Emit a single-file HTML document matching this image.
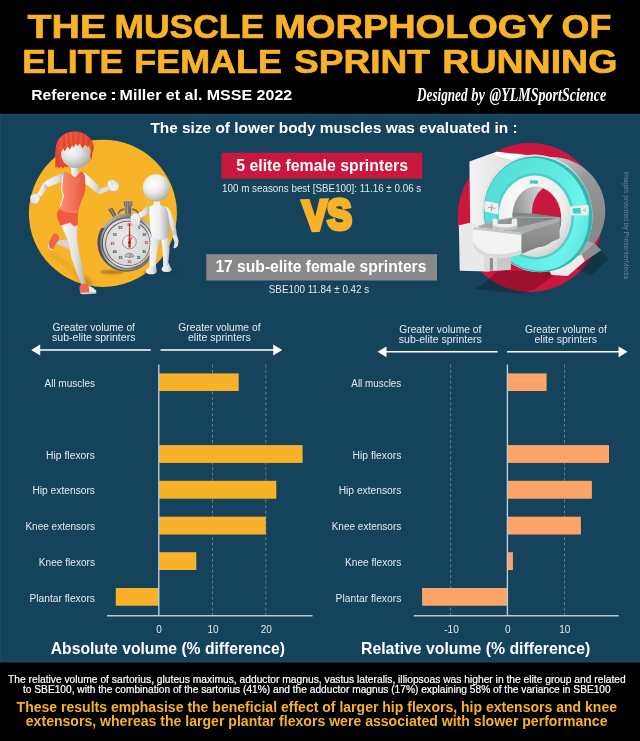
<!DOCTYPE html>
<html lang="en">
<head>
<meta charset="utf-8">
<title>The muscle morphology of elite female sprint running</title>
<style>
  html, body { margin: 0; padding: 0; background: #000; }
  body { width: 640px; height: 741px; overflow: hidden; }
  svg { display: block; }
  text { font-family: "Liberation Sans", sans-serif; }
  .b { font-weight: bold; }
  .w { fill: #ffffff; }
  .y { fill: #f7b22a; }
  .lab { fill: #e3e9ed; font-size: 10px; }
  .sm { fill: #e3e9ed; font-size: 10.7px; }
  .ax { stroke: #bccad2; stroke-width: 1.4; fill: none; }
  .grid { stroke: #6a8697; stroke-width: 0.9; stroke-dasharray: 3 2.4; fill: none; }
  .ft { stroke: #ffffff; stroke-width: 0.2; }
  .arrow { stroke: #ffffff; stroke-width: 1.6; fill: none; }
</style>
</head>
<body>
<svg width="640" height="741" viewBox="0 0 640 741">
  <defs>
    <radialGradient id="gHead" cx="0.38" cy="0.32" r="0.8">
      <stop offset="0" stop-color="#ffffff"/><stop offset="0.45" stop-color="#ececec"/><stop offset="0.8" stop-color="#bcbcbc"/><stop offset="1" stop-color="#8c8c8c"/>
    </radialGradient>
    <linearGradient id="gBody" x1="0" y1="0" x2="1" y2="0">
      <stop offset="0" stop-color="#ffffff"/><stop offset="0.55" stop-color="#ececec"/><stop offset="1" stop-color="#a9a9a9"/>
    </linearGradient>
    <linearGradient id="gLimb" x1="0" y1="0" x2="1" y2="0">
      <stop offset="0" stop-color="#fbfbfb"/><stop offset="0.6" stop-color="#e2e2e2"/><stop offset="1" stop-color="#b5b5b5"/>
    </linearGradient>
    <linearGradient id="gTop" x1="0" y1="0" x2="1" y2="0">
      <stop offset="0" stop-color="#f98e73"/><stop offset="0.5" stop-color="#f4745a"/><stop offset="1" stop-color="#e6573b"/>
    </linearGradient>
    <linearGradient id="gHair" x1="0" y1="0" x2="1" y2="1">
      <stop offset="0" stop-color="#f4583a"/><stop offset="1" stop-color="#d93a1f"/>
    </linearGradient>
    <linearGradient id="gSteel" x1="0" y1="0" x2="1" y2="1">
      <stop offset="0" stop-color="#e8e8e8"/><stop offset="0.3" stop-color="#7c7c7c"/><stop offset="0.55" stop-color="#c4c4c4"/><stop offset="1" stop-color="#4c4c4c"/>
    </linearGradient>
    <radialGradient id="gDial" cx="0.45" cy="0.4" r="0.7">
      <stop offset="0" stop-color="#ececec"/><stop offset="1" stop-color="#d2d2d2"/>
    </radialGradient>
    <linearGradient id="gBezel" x1="0" y1="0" x2="1" y2="1">
      <stop offset="0" stop-color="#f4f4f4"/><stop offset="0.45" stop-color="#bdbdbd"/><stop offset="0.7" stop-color="#e6e6e6"/><stop offset="1" stop-color="#8a8a8a"/>
    </linearGradient>
    <linearGradient id="gTeal" x1="0" y1="0" x2="1" y2="1">
      <stop offset="0" stop-color="#4fd9d1"/><stop offset="0.5" stop-color="#5ee9e1"/><stop offset="0.75" stop-color="#6cf3ec"/><stop offset="1" stop-color="#49d6ce"/>
    </linearGradient>
    <linearGradient id="gBack" x1="0.3" y1="0" x2="0.8" y2="0.7">
      <stop offset="0" stop-color="#e9e9e9"/><stop offset="0.25" stop-color="#bdbdbd"/><stop offset="0.5" stop-color="#9a9a9a"/><stop offset="1" stop-color="#8a8a8a"/>
    </linearGradient>
    <radialGradient id="gRingW" cx="0.4" cy="0.35" r="0.75">
      <stop offset="0" stop-color="#ffffff"/><stop offset="0.7" stop-color="#ececec"/><stop offset="1" stop-color="#c4c4c4"/>
    </radialGradient>
    <linearGradient id="gBore" x1="0" y1="0" x2="1" y2="0">
      <stop offset="0" stop-color="#8f8f8f"/><stop offset="0.5" stop-color="#c6c6c6"/><stop offset="1" stop-color="#e2e2e2"/>
    </linearGradient>
    <linearGradient id="gSlab" x1="0" y1="0" x2="1" y2="0">
      <stop offset="0" stop-color="#f3f3f3"/><stop offset="1" stop-color="#dadada"/>
    </linearGradient>
    <linearGradient id="gTblSide" x1="0" y1="0" x2="0" y2="1">
      <stop offset="0" stop-color="#9c9c9c"/><stop offset="1" stop-color="#7d7d7d"/>
    </linearGradient>
    <clipPath id="cRed"><ellipse cx="530.1" cy="217.5" rx="72.5" ry="74.4"/></clipPath>
    <clipPath id="cBore"><ellipse cx="536.9" cy="217" rx="24.2" ry="30.1" transform="rotate(-5.6 536.9 217)"/></clipPath>
    <clipPath id="cYel"><ellipse cx="102.9" cy="213.3" rx="74" ry="73.6"/></clipPath>
    <filter id="fBlur" x="-30%" y="-30%" width="160%" height="160%"><feGaussianBlur stdDeviation="2.2"/></filter>
    <filter id="fBlur2" x="-30%" y="-100%" width="160%" height="300%"><feGaussianBlur stdDeviation="1"/></filter>
    <linearGradient id="gTblTop" x1="0" y1="0" x2="1" y2="0">
      <stop offset="0" stop-color="#a4a9a9"/><stop offset="0.4" stop-color="#8a9090"/><stop offset="1" stop-color="#7a8181"/>
    </linearGradient>
    <radialGradient id="gHead2" cx="0.36" cy="0.34" r="0.8">
      <stop offset="0" stop-color="#f6f6f6"/><stop offset="0.4" stop-color="#e2e2e2"/><stop offset="0.8" stop-color="#b2b2b2"/><stop offset="1" stop-color="#8c8c8c"/>
    </radialGradient>
    <!--DEFS-->
  </defs>

  <!-- backgrounds -->
  <rect x="0" y="0" width="640" height="741" fill="#000000"/>
  <rect x="0" y="113.8" width="640" height="548.7" fill="#1b4b67"/>
  <rect x="1.2" y="115" width="638.8" height="546.2" fill="#16435c"/>

  <!-- header -->
  <g class="b y" font-size="32.4" stroke="#f7b22a" stroke-width="0.7">
    <text y="37.5"><tspan x="27.62" textLength="78.59" lengthAdjust="spacingAndGlyphs">THE</tspan> <tspan x="114.45" textLength="149.76" lengthAdjust="spacingAndGlyphs">MUSCLE</tspan> <tspan x="274.33" textLength="277.69" lengthAdjust="spacingAndGlyphs">MORPHOLOGY</tspan> <tspan x="561.64" textLength="49.72" lengthAdjust="spacingAndGlyphs">OF</tspan></text>
    <text y="72.6"><tspan x="22.16" textLength="101.1" lengthAdjust="spacingAndGlyphs">ELITE</tspan> <tspan x="134.37" textLength="147.53" lengthAdjust="spacingAndGlyphs">FEMALE</tspan> <tspan x="294.04" textLength="135.9" lengthAdjust="spacingAndGlyphs">SPRINT</tspan> <tspan x="442.3" textLength="175.01" lengthAdjust="spacingAndGlyphs">RUNNING</tspan></text>
  </g>
  <text class="b w" y="100" font-size="14.9"><tspan x="31.15" textLength="75.83" lengthAdjust="spacingAndGlyphs">Reference</tspan> <tspan x="109.88" textLength="7.42" lengthAdjust="spacingAndGlyphs">:</tspan> <tspan x="119.64" textLength="172.56" lengthAdjust="spacingAndGlyphs">Miller et al. MSSE 2022</tspan></text>
  <text class="w" y="101.4" font-size="18.4" font-style="italic" font-weight="bold" style="font-family:'Liberation Serif',serif"><tspan x="417" textLength="50.55" lengthAdjust="spacingAndGlyphs">Designed</tspan> <tspan x="471.29" textLength="13.72" lengthAdjust="spacingAndGlyphs">by</tspan> <tspan x="489.58" textLength="116.69" lengthAdjust="spacingAndGlyphs">@YLMSportScience</tspan></text>

  <!-- intro -->
  <text class="b w" x="150.4" y="132.6" font-size="15.4" textLength="367.2" lengthAdjust="spacingAndGlyphs">The size of lower body muscles was evaluated in :</text>

  <!-- left illustration -->
  <g>
    <ellipse cx="102.9" cy="213.3" rx="74" ry="73.6" fill="#f8b429"/>
    <!-- soft floor shadows -->
    <g clip-path="url(#cYel)">
      <path d="M48 256 Q62 258 80 282 L86 284 Q70 262 50 252 Z" fill="#b97a10" opacity="0.35" filter="url(#fBlur)"/>
      <path d="M82 274 Q90 278 94 288 L86 286 Z" fill="#8a5a0c" opacity="0.5" filter="url(#fBlur)"/>
      <ellipse cx="112" cy="272" rx="12" ry="2" fill="#7a5210" opacity="0.55" filter="url(#fBlur2)"/>
      <ellipse cx="152" cy="273" rx="9" ry="2.4" fill="#7a5210" opacity="0.5" filter="url(#fBlur2)"/>
    </g>
    <ellipse cx="168" cy="272" rx="11" ry="2.4" fill="#0f3246" opacity="0.4" filter="url(#fBlur2)"/>

    <!-- stopwatch -->
    <g>
      <rect x="125.4" y="205.6" width="5.6" height="8.6" fill="#6a6a6a"/>
      <rect x="126.8" y="205.6" width="1.4" height="8.6" fill="#9d9d9d"/>
      <rect x="123.8" y="201.2" width="8.6" height="5.4" rx="0.8" fill="#707070"/>
      <path d="M125.4 201.4 V206.4 M127.4 201.4 V206.4 M129.4 201.4 V206.4 M131 201.4 V206.4" stroke="#a9a9a9" stroke-width="0.6"/>
      <path d="M118 214 Q119.6 209.6 124.6 209.2 M138.6 214 Q137 209.6 131.8 209.2" fill="none" stroke="#6f6f6f" stroke-width="1.7"/>
      <path d="M108.2 209.4 L112.2 207.4 L116.4 215 L113.2 217.2 Z" fill="#5e5e5e"/>
      <path d="M109.6 208.8 L111 208.2 L115 215.6 L114 216.4 Z" fill="#8d8d8d"/>
      <path d="M141.4 209.8 L145.6 212.6 L143 217 L139 214.6 Z" fill="#5e5e5e"/>
      <circle cx="126.6" cy="242.7" r="28.7" fill="url(#gSteel)"/>
      <path d="M101.4 228 A28.7 28.7 0 0 0 126 271.4 A28.7 28.7 0 0 0 151 258 A26.4 26.4 0 0 1 104.6 228 Z" fill="#4a4a4a" opacity="0.9"/>
      <circle cx="127.5" cy="243" r="25.6" fill="#4a4a4a"/>
      <circle cx="127.6" cy="243.1" r="24.8" fill="url(#gBezel)"/>
      <circle cx="127.8" cy="243.3" r="22.6" fill="#555555"/>
      <circle cx="127.9" cy="243.4" r="21.9" fill="url(#gDial)"/>
      <circle cx="129.4" cy="242" r="6.9" fill="none" stroke="#4a4a4a" stroke-width="0.5"/>
      <path d="M125 256.4 A4.6 4.6 0 0 1 133.8 256.4 Q129.4 258.6 125 256.4 Z" fill="#c9c9c9" stroke="#4a4a4a" stroke-width="0.5"/>
      <g font-size="3.5" font-weight="bold" fill="#2e2e2e" text-anchor="middle">
        <text x="129.4" y="225.9" fill="#d22323">60</text>
        <text x="139.2" y="229">5</text>
        <text x="144.3" y="235.5">10</text>
        <text x="146.2" y="243.6" fill="#d22323">15</text>
        <text x="144.1" y="252.8">20</text>
        <text x="138.6" y="259.2">25</text>
        <text x="129.4" y="262.6" fill="#d22323">30</text>
        <text x="120.5" y="259.4">35</text>
        <text x="114.7" y="253.4">40</text>
        <text x="112.4" y="244.5" fill="#d22323">45</text>
        <text x="114.7" y="235.9">50</text>
        <text x="120.5" y="229">55</text>
      </g>
      <path d="M129.5 223.8 L130.4 247.2 L128.8 247.2 Z" fill="#d3202a" stroke="#d3202a" stroke-width="0.7" stroke-linejoin="round"/>
      <path d="M129.6 242 L132.2 237" stroke="#d3202a" stroke-width="0.8"/>
      <circle cx="129.5" cy="242.4" r="1.2" fill="#8a1218"/>
      <path d="M129.4 257 L130.4 254" stroke="#d3202a" stroke-width="0.7"/>
    </g>

    <!-- white figure -->
    <g>
      <!-- feet -->
      <path d="M150.2 264 L155.6 264 L156.6 269.6 Q157.6 273.4 153.6 274.2 Q147.4 275 146 272 Q145.6 269.4 148.6 268 Z" fill="url(#gLimb)"/>
      <path d="M163.2 262.6 L168.2 262.6 L170.4 267 Q173.2 270.4 169.6 271.8 Q163.6 272.8 161.8 270.2 Q161 267.6 163.2 266.4 Z" fill="url(#gLimb)"/>
      <!-- legs -->
      <path d="M151.6 234.6 L160.8 239.4 Q158 247 156.9 253.2 L155.4 266.6 L150.2 266.6 Q149.2 262 149.5 259 Q149.6 252 150.2 247.2 Z" fill="url(#gLimb)"/>
      <path d="M161.2 239.4 L168.2 236.6 Q169.8 244 169.5 250.2 L168 265.2 L163.3 265.2 L162.8 253.2 Q162.4 246 161.2 239.4 Z" fill="url(#gLimb)"/>
      <!-- right arm (behind torso) -->
      <path d="M164.8 206.6 Q169.6 207.6 171 212.6 L176.2 229.4 L177 236 L174 236.6 L171.7 229.4 L166.6 214 Z" fill="url(#gLimb)"/>
      <path d="M172.6 235 Q175.8 233.8 177.4 236.4 Q179.4 241 178 245.6 Q176 249 173.4 248 Q174.8 244 174.4 241.6 Q172.4 238.6 172.6 235 Z" fill="#e2e2e2"/>
      <!-- torso -->
      <path d="M153.8 201.6 L160 201.6 L160.4 205 Q164.6 205.6 166.6 208.4 Q168.6 213 168.9 219 Q169.8 225 169.5 229.4 Q169.4 234 168 237.4 Q164.6 240.6 160.6 239.6 Q155.4 239.6 151.7 235.4 Q150.2 231 150.2 226.4 Q149.4 219 149.5 214.6 Q148 210.4 147.6 208 Q150 205.4 153.6 205 Z" fill="url(#gBody)"/>
      <!-- left arm to stopwatch -->
      <path d="M148.6 205.8 Q144.6 207.6 139.8 212.2 L137.6 214.6 L140.6 218 L148.9 213.4 Q150.4 209 148.6 205.8 Z" fill="url(#gLimb)"/>
      <path d="M130.4 218 Q131 214.2 134.4 213.2 Q138.4 212.6 139.8 216 Q140.6 219 139.8 222 L139.4 225.4 Q137.8 226.6 136.8 224.8 L135.4 226 Q133.8 226.2 133.4 224.4 Q131.6 224.6 131.4 222.6 Q130 221 130.4 218 Z" fill="#f1f1f1" stroke="#b4b4b4" stroke-width="0.4"/>
      <path d="M133.2 219 L133.4 224 M135.4 219 L135.6 225.4 M137.4 218.6 L137.2 224.6" stroke="#b9b9b9" stroke-width="0.4" fill="none"/>
      <circle cx="156.2" cy="187.8" r="13.5" fill="url(#gHead)"/>
    </g>

    <!-- runner -->
    <g>
      <!-- back lower leg and shoe -->
      <path d="M67.4 239.6 L57 240.6 Q55.4 242.2 56.6 244 L64 246.8 L69.6 249.6 Z" fill="#d4d4d4"/>
      <path d="M53.9 233.5 Q56.6 232.6 58 235 Q59.6 237.6 58.8 240 L55.4 244.6 L53.4 249.2 Q51.2 250.2 49.2 247.6 Q47.8 245.6 48.6 243.6 L51.2 237.6 Z" fill="#f2654a"/>
      <path d="M48.6 243.6 Q47.8 245.8 49.2 247.8 Q51 250.2 53.4 249.4" fill="none" stroke="#d8d8d8" stroke-width="1.3"/>
      <!-- left arm (viewer left) -->
      <path d="M65.4 172.6 Q60 173.6 48.4 179.6 Q44.6 181.6 43.6 184 L47.4 187.2 L62.6 181.4 Z" fill="url(#gLimb)"/>
      <path d="M43.4 182.6 Q45.6 183 47.8 186.4 L41.4 196.6 L37.2 194.6 Z" fill="url(#gLimb)"/>
      <path d="M31 195.4 Q33.6 192.6 37.6 193.8 Q40.6 195.6 39.8 199.6 Q38.6 203.6 35 204 Q31.6 203.4 30.6 200 Q30 197.4 31 195.4 Z" fill="#eeeeee" stroke="#b4b4b4" stroke-width="0.4"/>
      <path d="M31.6 198 L36 200.6 M32.4 200.6 L35.4 202.4" stroke="#b4b4b4" stroke-width="0.4" fill="none"/>
      <!-- right arm -->
      <path d="M82.6 172 Q86 173 88.4 176 L100.4 187.6 Q102.6 190 101.4 192.6 L98.4 194 L85 183.2 Z" fill="url(#gLimb)"/>
      <path d="M98.2 193.8 Q98.6 190.4 101 188.6 L109.4 185.4 L111 189.6 L101.6 193.6 Z" fill="#dedede"/>
      <path d="M107.6 182 Q109.6 179.4 113 179.8 Q117.6 181 118.8 185.4 Q119 189.6 115.6 191 Q111.6 191.8 109 189.4 Q107 186.6 107.6 182 Z" fill="#eeeeee" stroke="#b4b4b4" stroke-width="0.4"/>
      <path d="M111 181 L112.6 185 M113.6 180.4 L115.2 184.6 M116 181.4 L117 185" stroke="#b4b4b4" stroke-width="0.4" fill="none"/>
      <!-- back thigh sliver -->
      <path d="M73.6 225 L77.6 225 L77 236 L74 233 Z" fill="#c4c4c4"/>
      <!-- front leg -->
      <path d="M61.2 225.6 L64 220 L76 220 L77.4 225.4 Q76.6 232 77 237 Q77.6 246 79.6 254 L82.2 267.6 L85.4 283.2 L81.4 284.6 L76.8 273 L71.4 258 Q70 249 67.4 239.2 Z" fill="url(#gLimb)"/>
      <!-- shoe front -->
      <path d="M79.6 286.6 Q80.8 283.2 83.4 284 Q86.6 283.6 88.6 285.4 L90.6 287.2 L89.6 292.6 L80.4 293 Q79.2 290 79.6 286.6 Z" fill="#f2654a"/>
      <path d="M88.6 285.4 Q94 287.6 96.2 290.8 L96.2 292.6 L89.4 292.8 Z" fill="#ececec"/>
      <path d="M80.2 292.4 L96.2 291.8 L96.2 293.4 Q88 294.6 80.6 294 Z" fill="#cfcfcf"/>
      <!-- shorts -->
      <path d="M60 208 L78.6 208 L78 213.6 L77.6 225.2 L74.2 226.4 L70.2 222.4 L60.6 225.8 Q57.4 220 56.8 214.8 Q57.6 210.6 60 208 Z" fill="#f15a3d"/>
      <path d="M60 208 L78.6 208 L78.2 212.6 Q68 214.6 59.2 210 Z" fill="#f67c62"/>
      <!-- neck -->
      <path d="M70.6 165 L79.6 165 L78.2 175.6 L75 177.6 L71.8 175.2 Z" fill="url(#gLimb)"/>
      <!-- top -->
      <path d="M64.8 171.8 L67.4 172 L75 177.4 L80.2 172.2 L82.2 171.8 Q85.4 174.6 85.2 179 L85.2 190.6 Q84 196 81.2 201.6 L78.6 209.4 Q69 212.6 60 208.4 L62.6 201 L64 195.4 Q62 191 62.2 187.6 L63.2 175 Z" fill="url(#gTop)"/>
      <path d="M63.4 174.6 L62.2 187.6 Q62 191 64 195.4 L62.6 201 L60.4 207.6 L59.4 206.8 L61.6 200.6 L62.8 195.4 Q60.8 191 61 187.4 L62.4 175 Z" fill="#f0f0f0"/>
      <!-- head -->
      <ellipse cx="75.6" cy="155.4" rx="15.2" ry="12.6" fill="url(#gHead2)"/>
      <!-- hair -->
      <path d="M73.1 131.6 Q68 131.6 63.7 134.4 Q60 136.6 58.1 140 Q56.2 143.6 55.8 147.5 Q55.2 152 55.3 156.9 L55.3 166.2 L55.8 169 L57.2 166.2 L59.1 168.6 L60.9 166.2 L62.8 168.6 L65.2 166.2 L67 167.6 L68.4 166.2 L63.7 162.5 L61.4 156.9 L60.9 152.2 L63.3 148.4 L64.7 151.2 L67.5 146.6 L69.8 149.4 L72.2 145.2 L73.6 147.5 L75.9 143.8 L77.8 146.1 L79.7 143.3 L82.5 148.4 L85.3 144.2 L87.6 147 L89 145.6 L90.9 150.8 L90 155.9 L91.4 160.6 L92.3 153.1 Q93.6 150 93.8 147.5 Q93.8 145 92.8 142.8 Q91.4 139.6 89 137.2 Q86 134.4 82.5 133 Q78 131.4 73.1 131.6 Z" fill="url(#gHair)"/>
      <path d="M63.7 134.6 L64.6 150.6 M68 132.6 L69.6 148.6 M73 131.8 L73.6 147 M78.6 132 L77.8 145.6 M84 133.8 L82.6 147.6 M89.4 138 L87.8 146.6 M58 141 L58.6 167.6 M56.6 146 L56.8 166" stroke="#bf2f19" stroke-width="0.5" fill="none" opacity="0.6"/>
      <path d="M61 137.4 L61.4 155 M66 133.6 L67.2 146.4 M70.6 132 L71.8 145 M76 131.8 L75.8 143.6 M81.4 132.8 L80.6 144.6 M86.6 135.6 L85.6 144 M91.4 141 L90.6 150" stroke="#ff8c6c" stroke-width="0.5" fill="none" opacity="0.55"/>
    </g>
  </g>

  <!-- right illustration -->
  <g>
    <!-- red disc + cast shadows -->
    <ellipse cx="530.1" cy="217.5" rx="72.5" ry="74.4" fill="#ca173d"/>
    <path d="M497.5 271 L549 271 L568 266 L534 289.6 L520 293.8 L475 288.8 L485 282.5 Z" fill="#000000" opacity="0.22"/>
    <path d="M576 268 L594 242 L601.4 250.2 L608 259.6 L591 275.6 L581 271 Z" fill="#000000" opacity="0.22"/>

    <!-- back housing (grey) -->
    <ellipse cx="551" cy="211" rx="54.3" ry="54" fill="url(#gBack)"/>
    <!-- foot -->
    <path d="M560 268 L581.8 254.6 L594.8 243.6 L585 240 L560 256 Z" fill="#a9a9a9"/>
    <path d="M594.8 243.6 L601.4 250.2 L585 261 L581.8 254.6 Z" fill="#8d8d8d"/>
    <path d="M548.4 269.6 L581.8 254.6 L585 261 L567.8 276 L551.6 275 Z" fill="#ececec"/>
    <!-- left slab -->
    <path d="M469.4 161.6 L496.4 151.8 L524 156.4 L524 190 L500 240 L470.4 240 Z" fill="url(#gSlab)"/>
    <path d="M496.4 151.8 L512 153.6 Q524 154 532 156.4 L514 160.6 L494.6 155.2 Z" fill="#ffffff"/>
    <!-- light rim -->
    <ellipse cx="537.4" cy="213.4" rx="54.6" ry="59.4" transform="rotate(-19.8 537.4 213.4)" fill="#dfe3e3"/>
    <!-- teal ring: bevel + face -->
    <ellipse cx="538.1" cy="214.2" rx="53.8" ry="58.4" transform="rotate(-19.8 538.1 214.2)" fill="#34b6b0"/>
    <ellipse cx="536.5" cy="214.3" rx="51.4" ry="57" transform="rotate(-19.8 536.5 214.3)" fill="url(#gTeal)"/>
    <ellipse cx="535.2" cy="216.2" rx="38.8" ry="43.2" transform="rotate(-3 535.2 216.2)" fill="#48d0c9"/>
    <!-- inner white ring -->
    <ellipse cx="535.1" cy="216.3" rx="36.4" ry="40.8" transform="rotate(-3 535.1 216.3)" fill="url(#gRingW)"/>
    <!-- bore -->
    <ellipse cx="536.9" cy="217" rx="24.6" ry="30.5" transform="rotate(-5.6 536.9 217)" fill="#c9c9c9"/>
    <ellipse cx="536.9" cy="217" rx="24.2" ry="30.1" transform="rotate(-5.6 536.9 217)" fill="url(#gBore)"/>
    <g clip-path="url(#cBore)">
      <ellipse cx="553" cy="212" rx="21" ry="27" fill="#ca173d"/>
      <path d="M510 212.4 L533 213.4 L562 217.6 L562 252 L510 252 Z" fill="#7f8686"/>
    </g>
    <!-- small displays -->
    <path d="M527.2 180.4 Q527 178.4 529 178.4 L539.6 178.8 Q541.6 179 541.4 181 L541 184 Q540.8 185.6 538.8 185.6 L529 185.2 Q527.2 185 527.2 183.4 Z" fill="#f1f1f1"/>
    <rect x="530" y="180.4" width="8" height="3.2" rx="0.6" fill="#39cfc6" transform="rotate(2 534 182)"/>
    <path d="M484.8 201 L498.4 203.6 L498.6 214.4 L484.6 211.6 Q483.6 206 484.8 201 Z" fill="#eeeeee"/>
    <path d="M488 207.2 L495.4 208.4 M491.8 204.2 L491.6 211.4" stroke="#8a8a8a" stroke-width="0.7"/>
    <path d="M570.2 206.6 L588.2 204.8 Q589.4 210 588.4 215.2 L570.4 215.4 Q569.4 211 570.2 206.6 Z" fill="#eeeeee"/>
    <path d="M572.6 208.4 L580.6 207.8 L580.8 213.4 L572.8 213.6 Z" fill="#39cfc6"/>
    <path d="M583 210.4 H586.8 M584.9 208.4 V212.4" stroke="#8a8a8a" stroke-width="0.7" stroke-dasharray="1 0.9"/>

    <!-- table side, cushion, top -->
    <path d="M520 233 L559.6 221 L559.6 238.4 L520 254.4 Z" fill="url(#gTblSide)"/>
    <path d="M518 227.6 L559.6 219 L559.6 221.6 L520 233.6 Z" fill="#b4b4b4"/>
    <path d="M476 227 L493.2 220.4 L518 216.4 L559.6 217.2 L559.6 219.2 L521.4 234.4 Z" fill="#a9adad"/>
    <path d="M483 226.4 L496 221.4 L518 217.4 L557 218 L518 227.4 L506 229.4 Z" fill="url(#gTblTop)"/>
    <!-- head rest -->
    <path d="M492.6 219.8 Q492.8 218.4 494.6 218.6 L497.4 219 L497.8 224 L511.6 224 L512 219 L515.4 218.6 Q517 218.6 517.2 220 L517.2 228 Q505 232 492.6 228 Z" fill="#ededed"/>
    <path d="M492.6 225.6 Q505 229.4 517.2 225.6 L517.2 228 Q505 232 492.6 228 Z" fill="#c5c5c5"/>
    <!-- pedestal block -->
    <path d="M458.9 225.3 L470.2 222.8 L478 226 L492 250 L490 271.4 L459.7 270.8 Z" fill="#e9e9e9"/>
    <!-- column under table -->
    <path d="M484 254 L510.6 254 L510.6 269.6 L484 271.4 Z" fill="#dcdcdc"/>
    <path d="M489.8 257 L493 257 L493 270.6 L489.8 270.8 Z" fill="#8f8f8f"/>
    <path d="M497 257 L510.6 256 L510.6 269.6 L497 270.4 Z" fill="#c9c9c9"/>
    <!-- table front (rounded) -->
    <path d="M472.8 230 Q472.6 227 476 227.4 L521.4 233 L521.4 254 Q504 259.6 486.6 257.6 Q473 252 472.8 244 Z" fill="#f3f3f3"/>
    <path d="M473.4 228.4 Q474 227.2 476 227.4 L521.4 233 L521.4 235 L476 229.6 Q474 229.4 473.4 230.6 Z" fill="#c4c4c4"/>
    <path d="M472.8 241 Q473 252 486.6 257.6 Q504 259.6 521.4 254 L521.4 250 Q504 255.6 488 253.6 Q476 249 472.8 241 Z" fill="#dadada"/>
  </g>
  <text transform="translate(623.8 171.4) rotate(90)" font-size="7.6" fill="#6a8292" textLength="107.8" lengthAdjust="spacingAndGlyphs">Images provided by PresenterMedia</text>

  <!-- groups -->
  <rect x="221.5" y="152.7" width="200.9" height="26" fill="#ca173d"/>
  <text class="b w" x="236.2" y="170.8" font-size="16" textLength="171.8" lengthAdjust="spacingAndGlyphs">5 elite female sprinters</text>
  <text class="sm" x="222" y="191.5" textLength="199.3" lengthAdjust="spacingAndGlyphs">100 m seasons best [SBE100]: 11.16 ± 0.06 s</text>

  <g transform="translate(303.4,230.2) rotate(-2.2)">
    <text class="b y" x="0" y="0" font-size="42" stroke="#f7b22a" stroke-width="4.4" stroke-linejoin="miter" textLength="48.8" lengthAdjust="spacingAndGlyphs">VS</text>
  </g>

  <rect x="206.3" y="254.2" width="230.7" height="26.3" fill="#898989"/>
  <text class="b w" x="215.4" y="272" font-size="16" textLength="211" lengthAdjust="spacingAndGlyphs">17 sub-elite female sprinters</text>
  <text class="sm" x="268.8" y="293.2" textLength="100.4" lengthAdjust="spacingAndGlyphs">SBE100 11.84 ± 0.42 s</text>

  <!-- left chart -->
  <g>
    <text class="lab" x="52.5" y="331.3" textLength="82.5" lengthAdjust="spacingAndGlyphs">Greater volume of</text>
    <text class="lab" x="52" y="341.3" textLength="83.5" lengthAdjust="spacingAndGlyphs">sub-elite sprinters</text>
    <text class="lab" x="178.3" y="331.3" textLength="82.2" lengthAdjust="spacingAndGlyphs">Greater volume of</text>
    <text class="lab" x="188" y="341.3" textLength="62.8" lengthAdjust="spacingAndGlyphs">elite sprinters</text>
    <path class="arrow" d="M39 350 H150.8 M160.5 350 H274"/>
    <path d="M31.2 350 L40.2 344.6 V355.4 Z M282.2 350 L273.2 344.6 V355.4 Z" fill="#ffffff"/>

    <path class="grid" d="M212.5 364.5 V615 M265.8 364.5 V615"/>
    <g fill="#f7b22a">
      <rect x="159" y="373.4" width="79.7" height="17.6"/>
      <rect x="159" y="445.1" width="143.6" height="17.8"/>
      <rect x="159" y="480.8" width="117.3" height="17.9"/>
      <rect x="159" y="516.7" width="106.8" height="17.8"/>
      <rect x="159" y="552.2" width="37.3" height="17.8"/>
      <rect x="115.8" y="588" width="43.2" height="17.7"/>
    </g>
    <path class="ax" d="M158.8 364.5 V615.8 M107 615.8 H312.5"/>

    <text class="lab" x="44.5" y="386.8" textLength="50.5" lengthAdjust="spacingAndGlyphs">All muscles</text>
    <text class="lab" x="46.1" y="458.5" textLength="48.9" lengthAdjust="spacingAndGlyphs">Hip flexors</text>
    <text class="lab" x="32.4" y="494" textLength="62.6" lengthAdjust="spacingAndGlyphs">Hip extensors</text>
    <text class="lab" x="25.4" y="529.8" textLength="69.6" lengthAdjust="spacingAndGlyphs">Knee extensors</text>
    <text class="lab" x="38.8" y="565.6" textLength="56.2" lengthAdjust="spacingAndGlyphs">Knee flexors</text>
    <text class="lab" x="29.4" y="601.8" textLength="65.6" lengthAdjust="spacingAndGlyphs">Plantar flexors</text>

    <text class="lab" x="159" y="633" font-size="10.8" text-anchor="middle">0</text>
    <text class="lab" x="213.1" y="633" font-size="10.8" text-anchor="middle">10</text>
    <text class="lab" x="266.2" y="633" font-size="10.8" text-anchor="middle">20</text>
    <text class="b w" x="50.8" y="654" font-size="16.4" textLength="234.2" lengthAdjust="spacingAndGlyphs">Absolute volume (% difference)</text>
  </g>

  <!-- right chart -->
  <g>
    <text class="lab" x="399.3" y="333" textLength="82" lengthAdjust="spacingAndGlyphs">Greater volume of</text>
    <text class="lab" x="398.8" y="343" textLength="83" lengthAdjust="spacingAndGlyphs">sub-elite sprinters</text>
    <text class="lab" x="525" y="333" textLength="81.8" lengthAdjust="spacingAndGlyphs">Greater volume of</text>
    <text class="lab" x="534.5" y="343" textLength="62.5" lengthAdjust="spacingAndGlyphs">elite sprinters</text>
    <path class="arrow" d="M385 351.8 H497.5 M507 351.8 H619.5"/>
    <path d="M377.5 351.8 L386.5 346.4 V357.2 Z M627.6 351.8 L618.6 346.4 V357.2 Z" fill="#ffffff"/>

    <path class="grid" d="M450.6 364.5 V615 M564.5 364.5 V615"/>
    <g fill="#fda568">
      <rect x="507.6" y="373.4" width="39" height="17.6"/>
      <rect x="507.6" y="445.1" width="101.4" height="17.8"/>
      <rect x="507.6" y="480.8" width="84.3" height="17.9"/>
      <rect x="507.6" y="516.7" width="73.3" height="17.8"/>
      <rect x="507.6" y="552.2" width="5.3" height="17.8"/>
      <rect x="422.1" y="588" width="85.5" height="17.7"/>
    </g>
    <path class="ax" d="M507.4 364.5 V615.8 M413.8 615.8 H618.7"/>

    <text class="lab" x="351.3" y="386.8" textLength="50" lengthAdjust="spacingAndGlyphs">All muscles</text>
    <text class="lab" x="352.6" y="458.5" textLength="48.7" lengthAdjust="spacingAndGlyphs">Hip flexors</text>
    <text class="lab" x="338.7" y="494" textLength="62.6" lengthAdjust="spacingAndGlyphs">Hip extensors</text>
    <text class="lab" x="331.7" y="529.8" textLength="69.6" lengthAdjust="spacingAndGlyphs">Knee extensors</text>
    <text class="lab" x="345.1" y="565.6" textLength="56.2" lengthAdjust="spacingAndGlyphs">Knee flexors</text>
    <text class="lab" x="335.6" y="601.8" textLength="65.7" lengthAdjust="spacingAndGlyphs">Plantar flexors</text>

    <text class="lab" x="451.5" y="632.8" font-size="10.8" text-anchor="middle">-10</text>
    <text class="lab" x="507.7" y="632.8" font-size="10.8" text-anchor="middle">0</text>
    <text class="lab" x="564.7" y="632.8" font-size="10.8" text-anchor="middle">10</text>
    <text class="b w" x="361" y="653.8" font-size="16.4" textLength="229.2" lengthAdjust="spacingAndGlyphs">Relative volume (% difference)</text>
  </g>

  <!-- footer -->
  <text class="w ft" x="8" y="682.7" font-size="10.3" textLength="617.7" lengthAdjust="spacingAndGlyphs">The relative volume of sartorius, gluteus maximus, adductor magnus, vastus lateralis, illiopsoas was higher in the elite group and related</text>
  <text class="w ft" x="23" y="692.8" font-size="10.3" textLength="587.7" lengthAdjust="spacingAndGlyphs">to SBE100, with the combination of the sartorius (41%) and the adductor magnus (17%) explaining 58% of the variance in SBE100</text>
  <text class="b y" x="16.6" y="711.8" font-size="14.3" textLength="600.4" lengthAdjust="spacingAndGlyphs">These results emphasise the beneficial effect of larger hip flexors, hip extensors and knee</text>
  <text class="b y" x="25.8" y="726.1" font-size="14.3" textLength="581.7" lengthAdjust="spacingAndGlyphs">extensors, whereas the larger plantar flexors were associated with slower performance</text>
</svg>
</body>
</html>
